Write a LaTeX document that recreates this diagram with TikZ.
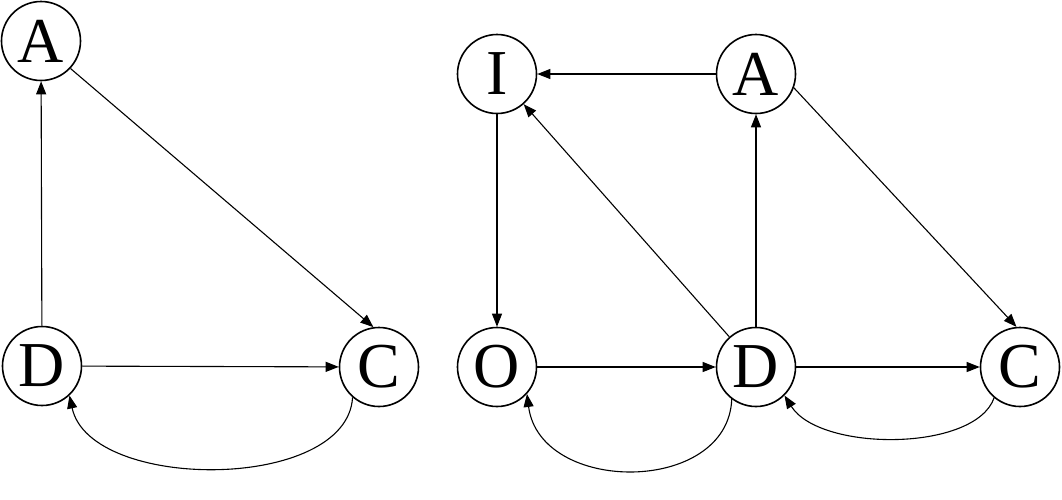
\documentclass[tikz,border=0pt]{standalone}
\usepackage{fontspec}
\setmainfont{Liberation Serif}
\usetikzlibrary{arrows.meta}
\begin{document}
\begin{tikzpicture}[x=1pt,y=-1pt,
  vtx/.style={circle,draw,line width=1.6pt,minimum size=79pt,inner sep=0pt,
    font=\fontsize{64}{64}\selectfont},
  edge/.style={line width=1.1pt,-{Triangle[length=13pt,width=10pt]}}]
\useasboundingbox (0,0) rectangle (1062,499);
% left graph
\node[vtx] (A1) at (41,41) {A};
\node[vtx] (D1) at (42,366) {D};
\node[vtx] (C1) at (379,367) {C};
\draw[edge] (D1) -- (A1);
\draw[edge] (A1.-43) -- (C1.98);
\draw[edge] (D1) -- (C1);
\draw[edge] (C1.229) .. controls (347,492) and (90,492) .. (D1.-47);
% right graph
\node[vtx] (I) at (497,74) {I};
\node[vtx] (A2) at (756,74) {A};
\node[vtx] (O) at (497,367) {O};
\node[vtx] (D2) at (756,367) {D};
\node[vtx] (C2) at (1020,367) {C};
\draw[edge] (A2) -- (I);
\draw[edge] (I) -- (O);
\draw[edge] (D2) -- (I);
\draw[edge] (D2) -- (A2);
\draw[edge] (A2.-20) -- (C2.95);
\draw[edge] (O) -- (D2);
\draw[edge] (D2) -- (C2);
\draw[edge] (D2.233) .. controls (728,495) and (540,495) .. (O.-42);
\draw[edge] (C2.230) .. controls (975,452) and (820,452) .. (D2.-45);
\end{tikzpicture}
\end{document}
